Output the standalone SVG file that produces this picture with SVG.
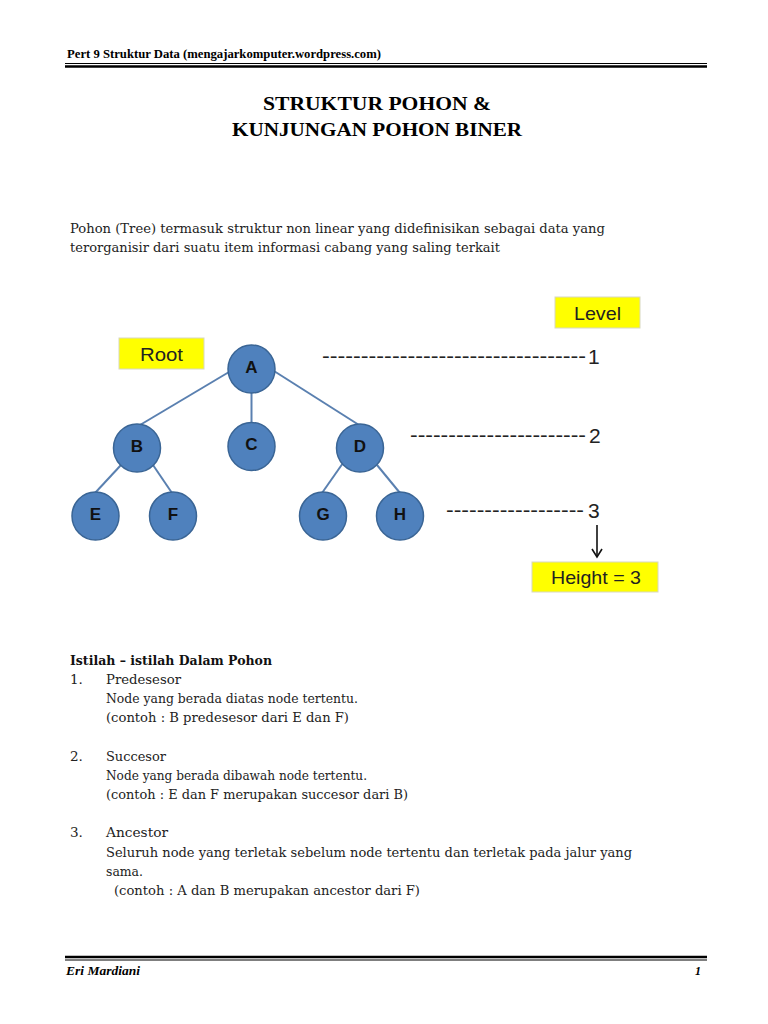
<svg xmlns="http://www.w3.org/2000/svg" width="768" height="1024" viewBox="0 0 768 1024">
<style>
.hdr{font-family:"Liberation Serif",serif;font-weight:bold;font-size:12px;fill:#000}
.title{font-family:"Liberation Serif",serif;font-weight:bold;font-size:19px;fill:#000;text-anchor:middle}
.body{font-family:"DejaVu Serif","Liberation Serif",serif;font-size:13.5px;fill:#222}
.bold{font-family:"DejaVu Serif","Liberation Serif",serif;font-weight:bold;font-size:13.5px;fill:#111}
.foot{font-family:"Liberation Serif",serif;font-weight:bold;font-style:italic;font-size:12px;fill:#000}
.node ellipse{fill:#4F81BD;stroke:#3A6595;stroke-width:1.5}
.node text{font-family:"Liberation Sans",Arial,sans-serif;font-weight:bold;font-size:17px;fill:#111;text-anchor:middle}
.box rect{fill:#FFFF00;stroke:#D8D8C0;stroke-width:1}
.box text{font-family:"Liberation Sans",Arial,sans-serif;font-size:19px;fill:#222;text-anchor:middle}
.lvl{font-family:"Liberation Sans",Arial,sans-serif;font-size:21px;fill:#222}
.edge{stroke:#5A80B0;stroke-width:2;fill:none}
</style>
<rect width="768" height="1024" fill="#fff"/>
<!-- header -->
<text class="hdr" x="67" y="58" textLength="314" lengthAdjust="spacingAndGlyphs">Pert 9 Struktur Data (mengajarkomputer.wordpress.com)</text>
<line x1="65" y1="63.5" x2="707" y2="63.5" stroke="#000" stroke-width="1"/>
<line x1="65" y1="66.5" x2="707" y2="66.5" stroke="#000" stroke-width="2.5"/>
<!-- title -->
<text class="title" x="377" y="110" textLength="228" lengthAdjust="spacingAndGlyphs">STRUKTUR POHON &amp;</text>
<text class="title" x="377" y="136" textLength="290" lengthAdjust="spacingAndGlyphs">KUNJUNGAN POHON BINER</text>
<!-- intro -->
<text class="body" x="70" y="233" textLength="535" lengthAdjust="spacingAndGlyphs">Pohon (Tree) termasuk struktur non linear yang didefinisikan sebagai data yang</text>
<text class="body" x="70" y="252" textLength="430" lengthAdjust="spacingAndGlyphs">terorganisir dari suatu item informasi cabang yang saling terkait</text>
<!-- connectors -->
<g id="connectors">
<line class="edge" x1="229" y1="372" x2="140" y2="425"/>
<line class="edge" x1="251.5" y1="393" x2="251.5" y2="423"/>
<line class="edge" x1="274" y1="371" x2="359" y2="425"/>
<line class="edge" x1="121" y1="465" x2="95" y2="493"/>
<line class="edge" x1="153" y1="465" x2="172" y2="493"/>
<line class="edge" x1="343" y1="463" x2="322" y2="493"/>
<line class="edge" x1="377" y1="465" x2="400" y2="493"/>
<path d="M597,525 L597,556" stroke="#111" stroke-width="1.6" fill="none"/>
<path d="M592,549 L597,557 L602,549" stroke="#111" stroke-width="1.6" fill="none"/>
</g>
<!-- nodes -->
<g id="node-A" class="node"><ellipse cx="251.5" cy="369" rx="23.5" ry="24"/><text x="251.5" y="373">A</text></g>
<g id="node-B" class="node"><ellipse cx="137" cy="448" rx="23.5" ry="24"/><text x="137" y="452">B</text></g>
<g id="node-C" class="node"><ellipse cx="251.5" cy="446.5" rx="23.5" ry="24"/><text x="251.5" y="450">C</text></g>
<g id="node-D" class="node"><ellipse cx="360" cy="448" rx="23.5" ry="24"/><text x="360" y="452">D</text></g>
<g id="node-E" class="node"><ellipse cx="95.5" cy="516" rx="23.5" ry="24"/><text x="95.5" y="520">E</text></g>
<g id="node-F" class="node"><ellipse cx="173" cy="516" rx="23.5" ry="24"/><text x="173" y="520">F</text></g>
<g id="node-G" class="node"><ellipse cx="323" cy="516" rx="23.5" ry="24"/><text x="323" y="520">G</text></g>
<g id="node-H" class="node"><ellipse cx="400" cy="516" rx="23.5" ry="24"/><text x="400" y="520">H</text></g>
<!-- labels -->
<g id="root-label" class="box"><rect x="119" y="338" width="85" height="31"/><text x="161.5" y="361" textLength="43" lengthAdjust="spacingAndGlyphs">Root</text></g>
<g id="level-label" class="box"><rect x="555" y="297" width="85" height="31"/><text x="597.5" y="320" textLength="47" lengthAdjust="spacingAndGlyphs">Level</text></g>
<g id="height-label" class="box"><rect x="532" y="562" width="126" height="30"/><text x="596" y="584" textLength="90" lengthAdjust="spacingAndGlyphs">Height = 3</text></g>
<g id="levels">
<text class="lvl" x="322" y="363" textLength="264" lengthAdjust="spacingAndGlyphs">----------------------------------</text>
<text class="lvl" x="588" y="364">1</text>
<text class="lvl" x="410" y="442" textLength="176" lengthAdjust="spacingAndGlyphs">-----------------------</text>
<text class="lvl" x="589" y="443">2</text>
<text class="lvl" x="446" y="517" textLength="138" lengthAdjust="spacingAndGlyphs">------------------</text>
<text class="lvl" x="588" y="518">3</text>
</g>
<!-- terms -->
<text class="bold" x="70" y="665" textLength="202" lengthAdjust="spacingAndGlyphs">Istilah – istilah Dalam Pohon</text>
<text class="body" x="70" y="684">1.</text>
<text class="body" x="106" y="684" textLength="75" lengthAdjust="spacingAndGlyphs">Predesesor</text>
<text class="body" x="106" y="703" textLength="252" lengthAdjust="spacingAndGlyphs">Node yang berada diatas node tertentu.</text>
<text class="body" x="106" y="722" textLength="243" lengthAdjust="spacingAndGlyphs">(contoh : B predesesor dari E dan F)</text>
<text class="body" x="70" y="761">2.</text>
<text class="body" x="106" y="761" textLength="60" lengthAdjust="spacingAndGlyphs">Succesor</text>
<text class="body" x="106" y="780" textLength="261" lengthAdjust="spacingAndGlyphs">Node yang berada dibawah node tertentu.</text>
<text class="body" x="106" y="799" textLength="302" lengthAdjust="spacingAndGlyphs">(contoh : E dan F merupakan succesor dari B)</text>
<text class="body" x="70" y="837">3.</text>
<text class="body" x="106" y="837" textLength="62" lengthAdjust="spacingAndGlyphs">Ancestor</text>
<text class="body" x="106" y="857" textLength="526" lengthAdjust="spacingAndGlyphs">Seluruh node yang terletak sebelum node tertentu dan terletak pada jalur yang</text>
<text class="body" x="106" y="876" textLength="37" lengthAdjust="spacingAndGlyphs">sama.</text>
<text class="body" x="114" y="895" textLength="306" lengthAdjust="spacingAndGlyphs">(contoh : A dan B merupakan ancestor dari F)</text>
<!-- footer -->
<line x1="65" y1="957" x2="707" y2="957" stroke="#000" stroke-width="2.5"/>
<line x1="65" y1="960" x2="707" y2="960" stroke="#000" stroke-width="1"/>
<text class="foot" x="66" y="975" textLength="74" lengthAdjust="spacingAndGlyphs">Eri Mardiani</text>
<text class="foot" x="695" y="975">1</text>
</svg>
